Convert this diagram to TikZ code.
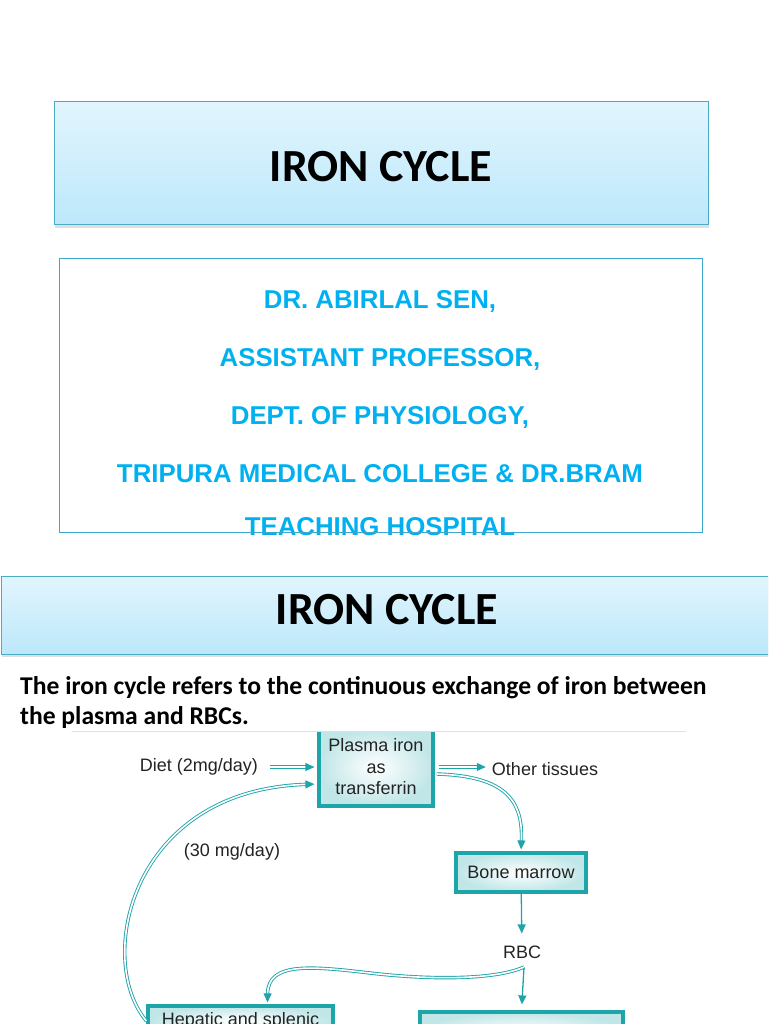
\documentclass[tikz,border=0pt]{standalone}
\usepackage{fontspec}
\setmainfont{Carlito}
\newfontfamily\arialish{Liberation Sans}
\usetikzlibrary{positioning,arrows.meta,calc,shadows}
\definecolor{slideBlue}{RGB}{75,172,198}
\definecolor{slideTop}{RGB}{226,245,253}
\definecolor{slideBottom}{RGB}{188,232,251}
\definecolor{authorCyan}{RGB}{0,176,240}
\definecolor{authorFrame}{RGB}{60,168,205}
\definecolor{ironTeal}{RGB}{30,165,170}
\definecolor{ironText}{RGB}{35,35,35}

\begin{document}
\begin{tikzpicture}[x=1pt,y=-1pt,
      banner/.style={draw=slideBlue,line width=1pt,top color=slideTop,bottom color=slideBottom,
        drop shadow={shadow xshift=1pt,shadow yshift=-3pt,opacity=.25},
        font=\bfseries\fontsize{46}{50}\selectfont,inner sep=0pt},
      ironbox/.style={draw=ironTeal,line width=3.2pt,inner color=white,outer color=ironTeal!28,
        drop shadow={shadow xshift=2pt,shadow yshift=-2pt,opacity=.2},
        align=center,font=\arialish\fontsize{18}{21.5}\selectfont,text=ironText,inner sep=2pt},
      lbl/.style={font=\arialish\fontsize{18}{21.5}\selectfont,text=ironText,inner sep=2pt},
      twin/.style={-{Triangle[length=9pt,width=8pt]},draw=ironTeal,line width=0.9pt,double=white,double distance=1.6pt},
      flow/.style={-{Triangle[length=9pt,width=8pt]},draw=ironTeal,line width=1.3pt}]
    \useasboundingbox (0,0) rectangle (768,1024);
    \clip (0,0) rectangle (768,1024);
    % title slide
    \node[banner,minimum width=654pt,minimum height=123pt,text height=36.6pt,text depth=0pt] (title) at (381,163.5) {IRON CYCLE};
    \node[font=\arialish\bfseries\fontsize{25.8}{58}\selectfont,text=authorCyan,align=center] (author) at (380,413.5)
      {DR. ABIRLAL SEN,\\ASSISTANT PROFESSOR,\\DEPT. OF PHYSIOLOGY,\\TRIPURA MEDICAL COLLEGE \& DR.BRAM\\[-5pt]TEACHING HOSPITAL};
    \node[draw=authorFrame,line width=1pt,minimum width=643pt,minimum height=274pt] (authbox) at (380.5,395) {};
    % second slide
    \node[banner,minimum width=772pt,minimum height=78pt,text height=29.6pt,text depth=10pt] (title2) at (387,615) {IRON CYCLE};
    \node[font=\bfseries\fontsize{25.6}{30}\selectfont,align=left,anchor=west,inner sep=0pt] (intro) at (20,703)
      {The iron cycle refers to the continuous exchange of iron between\\the plasma and RBCs.};
    \draw[black!12,line width=1.5pt] (72,731.5) -- (686,731.5);
    \begin{scope}
      \clip (72,732) rectangle (690,1024);
      \node[ironbox,minimum width=114pt,minimum height=78pt] (plasma) at (376,767) {Plasma iron\\as\\transferrin};
      \node[lbl] (diet) at (199,767) {Diet (2mg/day)};
      \node[lbl] (other) at (545,769) {Other tissues};
      \node[lbl] (rate) at (232,852) {(30 mg/day)};
      \node[ironbox,minimum width=130pt,minimum height=39pt] (marrow) at (521,872.5) {Bone marrow};
      \node[lbl] (rbc) at (522,952) {RBC};
      \node[ironbox,minimum width=185pt,minimum height=30pt] (hepatic) at (240.5,1021) {Hepatic and splenic};
      \node[ironbox,minimum width=203pt,minimum height=40pt] (lower) at (521.5,1032) {};
      \coordinate (fork) at (524,967);

      \draw[twin,shorten <=10pt,shorten >=3pt] (diet) -- (plasma);
      \draw[twin,shorten <=4pt,shorten >=4pt] (plasma.east) -- (plasma.east -| other.west);
      \draw[twin,shorten >=2pt] ($(plasma.east)+(2,7)$) .. controls (505,776) and (523,800) .. (marrow.north);
      \draw[flow,shorten >=10pt] (marrow) -- (rbc);
      \draw[flow,shorten >=6pt] (fork) -- (lower.north);
      \draw[twin] (fork) .. controls (495,980) and (430,980) .. (370,973)
        .. controls (310,966) and (268,962) .. ($(hepatic.north)+(27,-2)$);
      \draw[twin,shorten >=3pt] (hepatic.west) .. controls (95,960) and (130,790) .. ($(plasma.west)+(0,17)$);
    \end{scope}
  \end{tikzpicture}
\end{document}
